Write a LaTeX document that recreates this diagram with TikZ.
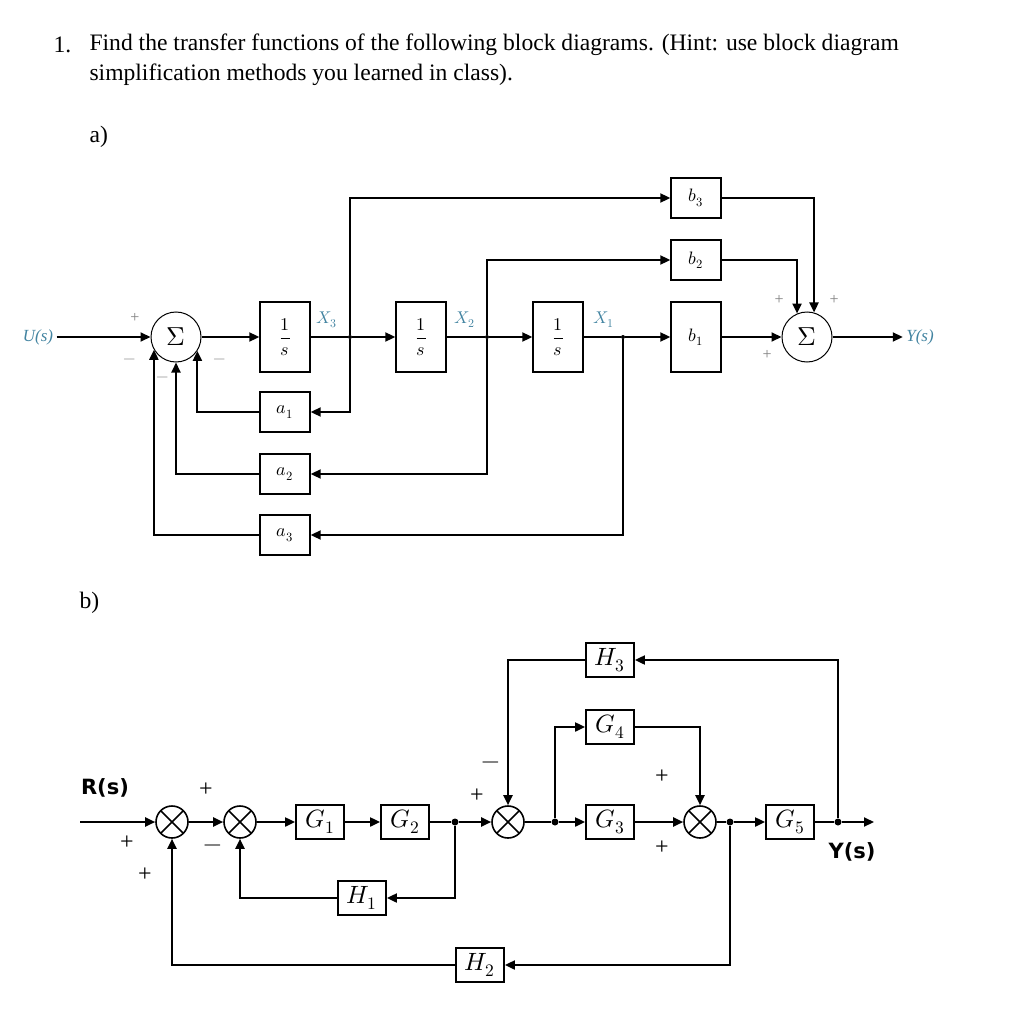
\documentclass[tikz,border=0pt]{standalone}
\usepackage{fontspec}
\usepackage{unicode-math}
\setmainfont{Liberation Serif}
\setsansfont{DejaVu Sans}
\setmathfont{Latin Modern Math}
\usetikzlibrary{arrows.meta}

\begin{document}
\begin{tikzpicture}[x=1pt,y=-1pt,
    blk/.style={draw,line width=1.4pt,minimum width=50pt,inner sep=2pt,font=\fontsize{18}{18}\selectfont},
    blkb/.style={blk,minimum width=48pt,minimum height=34pt,line width=1.8pt,font=\fontsize{25}{25}\selectfont},
    sig/.style={line width=2pt,-{Triangle[length=10pt,width=9pt]}},
    wire/.style={line width=2pt},
    sumA/.style={draw,circle,line width=1pt,minimum size=50pt,inner sep=0pt,font=\fontsize{26}{26}\selectfont},
    sumB/.style={draw,circle,line width=1.6pt,minimum size=32pt,inner sep=0pt,
      path picture={\draw[line width=1.6pt] (path picture bounding box.north west) -- (path picture bounding box.south east)
        (path picture bounding box.north east) -- (path picture bounding box.south west);}},
    dot/.style={circle,fill,inner sep=0pt,minimum size=7pt},
    sgn/.style={text=gray,font=\fontsize{16}{16}\selectfont},
    sgnb/.style={font=\fontsize{24}{24}\selectfont},
    lbl/.style={text=cyan!60!black,font=\fontsize{17}{17}\selectfont\itshape},
    head/.style={anchor=west,font=\fontsize{23.6}{28}\selectfont}]
  \useasboundingbox (0,0) rectangle (1010,1024);

  % header
  \node[head] (num) at (50,45) {1.};
  \node[head] (hl1) at (86,45) {Find the transfer functions of the following block diagrams. (Hint: use block diagram};
  \node[head] (hl2) at (86,75) {simplification methods you learned in class).};
  \node[head] (pa) at (86,137) {a)};
  \node[head] (pb) at (76,603) {b)};

  % part a
  \node[lbl] (u) at (38,337) {U(s)};
  \node[sumA] (s1) at (176,337) {$\Sigma$};
  \node[blk,minimum height=70pt] (i1) at (285,337) {$\displaystyle\frac{1}{s}$};
  \node[blk,minimum height=70pt] (i2) at (421,337) {$\displaystyle\frac{1}{s}$};
  \node[blk,minimum height=70pt] (i3) at (558,337) {$\displaystyle\frac{1}{s}$};
  \node[blk,minimum height=70pt] (b1) at (696,337) {$b_1$};
  \node[blk,minimum height=40pt] (b2) at (696,260) {$b_2$};
  \node[blk,minimum height=40pt] (b3) at (696,198) {$b_3$};
  \node[blk,minimum height=40pt] (a1) at (285,412) {$a_1$};
  \node[blk,minimum height=40pt] (a2) at (285,474) {$a_2$};
  \node[blk,minimum height=40pt] (a3) at (285,535) {$a_3$};
  \node[sumA] (s2) at (807,337) {$\Sigma$};
  \node[lbl] (y) at (920,337) {Y(s)};
  \node[dot,minimum size=4pt] (x3) at (350,337) {};
  \node[dot,minimum size=4pt] (x2) at (487,337) {};
  \node[dot,minimum size=4pt] (x1) at (623,337) {};
  \node[lbl] (lx3) at (327,320) {$X_3$};
  \node[lbl] (lx2) at (465,320) {$X_2$};
  \node[lbl] (lx1) at (604,320) {$X_1$};
  \draw[sig] (u) -- (s1);
  \draw[sig] (s1) -- (i1);
  \draw[wire] (i1) -- (x3);
  \draw[sig] (x3) -- (i2);
  \draw[wire] (i2) -- (x2);
  \draw[sig] (x2) -- (i3);
  \draw[wire] (i3) -- (x1);
  \draw[sig] (x1) -- (b1);
  \draw[sig] (x3) |- (b3);
  \draw[sig] (x2) |- (b2);
  \draw[sig] (x3) |- (a1);
  \draw[sig] (x2) |- (a2);
  \draw[sig] (x1) |- (a3);
  \draw[sig] (a1) -| (s1.-33);
  \draw[sig] (a2) -| (s1.south);
  \draw[sig] (a3) -| (s1.-150);
  \draw[sig] (b1) -- (s2);
  \draw[sig] (b2) -| (s2.113);
  \draw[sig] (b3) -| (s2.74);
  \draw[sig] (s2) -- (y);
  \node[sgn] (p1) at (135,318) {+};
  \node[sgn] (m1) at (130,361) {$-$};
  \node[sgn] (m2) at (163,379) {$-$};
  \node[sgn] (m3) at (220,361) {$-$};
  \node[sgn] (p2) at (779,300) {+};
  \node[sgn] (p3) at (834,300) {+};
  \node[sgn] (p4) at (767,355) {+};

  % part b
  \node[font=\sffamily\bfseries\fontsize{21}{21}\selectfont] (r) at (105,788) {R(s)};
  \coordinate (rin) at (80,822);
  \node[sumB] (c1) at (172,822) {};
  \node[sumB] (c2) at (240,822) {};
  \node[blkb] (g1) at (320,822) {$G_1$};
  \node[blkb] (g2) at (405,822) {$G_2$};
  \node[dot] (d1) at (455,822) {};
  \node[sumB] (c3) at (508,822) {};
  \node[dot] (d2) at (555,822) {};
  \node[blkb] (g3) at (610,822) {$G_3$};
  \node[blkb] (g4) at (610,727) {$G_4$};
  \node[blkb] (h3) at (610,660) {$H_3$};
  \node[sumB] (c4) at (700,822) {};
  \node[dot] (d3) at (730,822) {};
  \node[blkb] (g5) at (790,822) {$G_5$};
  \node[dot] (d4) at (838,822) {};
  \coordinate (yout) at (874,822);
  \node[blkb] (h1) at (362,898) {$H_1$};
  \node[blkb] (h2) at (480,965) {$H_2$};
  \node[font=\sffamily\bfseries\fontsize{21}{21}\selectfont] (yl) at (852,852) {Y(s)};
  \draw[sig] (rin) -- (c1);
  \draw[sig] (c1) -- (c2);
  \draw[sig] (c2) -- (g1);
  \draw[sig] (g1) -- (g2);
  \draw[wire] (g2) -- (d1);
  \draw[sig] (d1) -- (c3);
  \draw[wire] (c3) -- (d2);
  \draw[sig] (d2) -- (g3);
  \draw[sig] (d2) |- (g4);
  \draw[sig] (g4) -| (c4.north);
  \draw[sig] (g3) -- (c4);
  \draw[wire] (c4) -- (d3);
  \draw[sig] (d3) -- (g5);
  \draw[wire] (g5) -- (d4);
  \draw[sig] (d4) -- (yout);
  \draw[sig] (d4) |- (h3);
  \draw[sig] (h3) -| (c3.north);
  \draw[sig] (d1) |- (h1);
  \draw[sig] (h1) -| (c2.south);
  \draw[sig] (d3) |- (h2);
  \draw[sig] (h2) -| (c1.south);
  \node[sgnb] (q1) at (127,843) {+};
  \node[sgnb] (q2) at (145,875) {+};
  \node[sgnb] (q3) at (206,790) {+};
  \node[sgnb] (q4) at (213,848) {$-$};
  \node[sgnb] (q5) at (477,796) {+};
  \node[sgnb] (q6) at (491,765) {$-$};
  \node[sgnb] (q7) at (662,777) {+};
  \node[sgnb] (q8) at (662,848) {+};
\end{tikzpicture}
\end{document}
